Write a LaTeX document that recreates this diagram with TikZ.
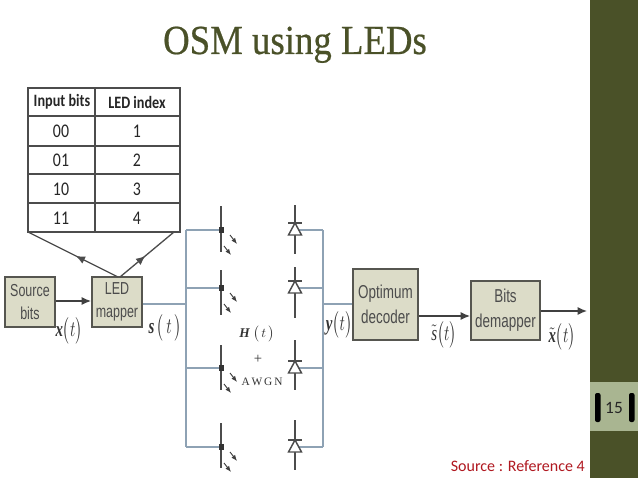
\documentclass[tikz,border=0pt]{standalone}
\usepackage{fontspec}
\usepackage{amsmath}
\usepackage{graphicx}
\setmainfont{Liberation Serif}
\setsansfont{Liberation Sans}
\newfontfamily\carl{Carlito}
\newfontfamily\carlnarrow[FakeStretch=0.82]{Carlito}
\newfontfamily\blockfont[FakeStretch=0.72]{Liberation Sans}
\newfontfamily\titlefont[FakeStretch=0.89,FakeBold=0.5]{Liberation Serif}
\usetikzlibrary{arrows.meta,decorations.markings}
\definecolor{olivedark}{HTML}{4A5128}
\definecolor{pagebox}{HTML}{A9B591}
\definecolor{boxfill}{HTML}{DCDCC8}
\definecolor{boxline}{HTML}{565650}
\definecolor{busblue}{HTML}{8EA2B4}
\definecolor{srcred}{HTML}{B01820}
\newcommand{\lbl}[1]{\scalebox{0.8}[1.15]{#1}}
\newcommand{\bi}[1]{\mbox{\bfseries\itshape #1}}
\tikzset{
  x=0.75pt,y=-0.75pt,
  blockbox/.style={draw=boxline,line width=1.4pt,fill=boxfill,inner sep=0pt,align=center,font=\blockfont\fontsize{13}{17}\selectfont,text=black!70},
  cellt/.style={inner sep=0pt,font=\carlnarrow\fontsize{14.5}{16}\selectfont,text=black!85},
  hdr/.style={cellt,font=\carlnarrow\bfseries\fontsize{13}{15}\selectfont},
  tabline/.style={draw=black!70,line width=1pt},
  bus/.style={draw=busblue,line width=1.3pt},
  sig/.style={draw=black!75,line width=1pt,-{Latex[length=7pt,width=6pt]}},
  feed/.style={draw=black!70,line width=1pt,postaction={decorate}},
  dev/.style={draw=black!70,line width=0.9pt},
  ray/.style={draw=black!75,line width=0.7pt,-{Latex[length=4.5pt,width=3.5pt]}},
  lab/.style={inner sep=0pt,text=black!80,font=\fontsize{14}{16}\selectfont},
}
\begin{document}
\begin{tikzpicture}
\useasboundingbox (0,0) rectangle (638,478);
\fill[white] (0,0) rectangle (638,478);
% side band
\fill[olivedark] (590,0) rectangle (638,478);
\fill[pagebox] (590,382) rectangle (638,431);
\fill[black,rounded corners=1.5pt] (595,393) rectangle (600.5,422);
\fill[black,rounded corners=1.5pt] (629,393) rectangle (634.5,422);
\node[inner sep=0pt,font=\carl\fontsize{13}{14}\selectfont,text=black!85] (pageno) at (614,408) {15};
% title
\node[inner sep=0pt,anchor=base,font=\titlefont\fontsize{31}{36}\selectfont,text=olivedark] (title) at (295,54) {OSM using LEDs};
\node[inner sep=0pt,anchor=east,font=\carl\fontsize{12}{14}\selectfont,text=srcred] (source) at (585,466) {Source : Reference 4};
% table
\draw[tabline] (28,88) rectangle (180,232);
\draw[tabline] (95,88) -- (95,232);
\foreach \yy in {116,146,174,203} \draw[tabline] (28,\yy) -- (180,\yy);
\node[hdr] (h1) at (62,102) {Input bits};
\node[hdr] (h2) at (137,102) {LED index};
\node[cellt] (a1) at (61,131) {00}; \node[cellt] (b1) at (137,131) {1};
\node[cellt] (a2) at (61,160) {01}; \node[cellt] (b2) at (137,160) {2};
\node[cellt] (a3) at (61,189) {10}; \node[cellt] (b3) at (137,189) {3};
\node[cellt] (a4) at (61,218) {11}; \node[cellt] (b4) at (137,218) {4};
\coordinate (tabL) at (28,232);
\coordinate (tabR) at (174,232);
% blocks
\node[blockbox,minimum width=37.5pt,minimum height=37.5pt] (src) at (30,302) {Source\\bits};
\node[blockbox,minimum width=37.5pt,minimum height=37.5pt] (map) at (117,302) {LED\\mapper};
\node[blockbox,minimum width=48.75pt,minimum height=53pt,font=\blockfont\fontsize{14}{19}\selectfont] (opt) at (385.5,304.5) {Optimum\\decoder};
\node[blockbox,minimum width=51.75pt,minimum height=44pt,font=\blockfont\fontsize{14}{19}\selectfont] (dem) at (505.5,310.5) {Bits\\demapper};
\coordinate (mapT) at (118,277);
\coordinate (mapT2) at (120,277);
\coordinate (out) at (587,311);
% feedback from table
\draw[feed,decoration={markings,mark=at position 0.47 with {\arrow{Latex[length=7pt,width=6pt]}}}] (mapT) -- (tabL);
\draw[feed,decoration={markings,mark=at position 0.47 with {\arrow{Latex[length=7pt,width=6pt]}}}] (mapT2) -- (tabR);
% buses
\coordinate (bT) at (186,230); \coordinate (bB) at (186,447);
\coordinate (rT) at (323,230); \coordinate (rB) at (323,447);
\coordinate (bM) at (186,304); \coordinate (rM) at (323,304);
\draw[bus] (bT) -- (bB);
\draw[bus] (rT) -- (rB);
\draw[bus] (map.east |- bM) -- (bM);
\draw[bus] (rM) -- (opt.west |- rM);
\foreach \i/\yy/\lt/\lb/\dt/\db in {1/230/206/252/205/254,2/288/270/315/267/318,3/368/345/390/340/390,4/447/423/468/420/470}{
  \coordinate (L\i) at (221,\yy);
  \coordinate (D\i) at (295,\yy);
  \draw[bus] (186,\yy) -- (L\i);
  \draw[bus] (D\i) -- (323,\yy);
  \draw[dev] (L\i |- 0,\lt) -- (L\i |- 0,\lb);
  \fill[black!80] (218.5,\yy-3) rectangle (223.5,\yy+3);
  \draw[ray] (230,\yy+5) -- (237,\yy+14);
  \draw[ray] (224,\yy+16) -- (231,\yy+25);
  \draw[dev,line width=0.8pt] (D\i |- 0,\dt) -- (D\i |- 0,\db);
  \draw[dev,line width=1.1pt] (288,\yy-7) -- (302,\yy-7);
  \draw[dev,line width=1.1pt,fill=white] (295,\yy-7) -- (288.5,\yy+5) -- (301.5,\yy+5) -- cycle;
}
% signal arrows
\draw[sig] (src.east |- 0,301) -- (map.west |- 0,301);
\draw[sig] (opt.east |- 0,316) -- (dem.west |- 0,316);
\draw[sig] (dem.east |- out) -- (out);
% labels
\node[lab] (xt) at (69,331) {\lbl{$\bi{x}\bigl(t\bigr)$}};
\node[lab] (st) at (165,328) {\lbl{$\bi{s}\,\bigl(\,t\,\bigr)$}};
\node[lab] (yt) at (339,325) {\lbl{$\bi{y}\bigl(t\bigr)$}};
\node[lab] (shat) at (444,335) {\lbl{$\tilde{\mbox{\itshape s}}\bigl(t\bigr)$}};
\node[lab] (xhat) at (562,337) {\lbl{$\tilde{\bi{x}}\bigl(t\bigr)$}};
\node[lab,font=\fontsize{10}{12}\selectfont] (ht) at (257,334) {$\bi{H}\ \bigl(\,t\,\bigr)$};
\node[lab,font=\fontsize{11}{12}\selectfont] (plus) at (258,359) {+};
\node[lab,font=\fontsize{8.5}{11}\selectfont] (awgn) at (262,382) {A\,W\,G\,N};
\end{tikzpicture}
\end{document}
